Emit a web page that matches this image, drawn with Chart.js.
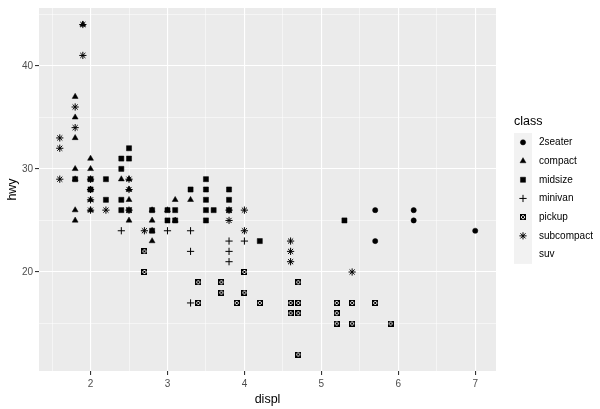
<!DOCTYPE html>
<html>
<head>
<meta charset="utf-8">
<script src="https://cdn.jsdelivr.net/npm/chart.js@4.4.1/dist/chart.umd.min.js"></script>
<style>
  html, body { margin: 0; padding: 0; background: #ffffff; }
</style>
</head>
<body>
<canvas id="mpgChart" width="600" height="409"></canvas>
<script>
// mpg: displ vs hwy, shape by class (suv has no shape, so it is not drawn)
var classNames = ['2seater', 'compact', 'midsize', 'minivan', 'pickup', 'subcompact', 'suv'];

var twoSeater = [[5.7, 26], [5.7, 23], [6.2, 26], [6.2, 25], [7.0, 24]];

var compact = [
  [1.8, 37], [1.8, 35], [1.8, 33], [1.8, 30], [1.8, 29], [1.8, 26], [1.8, 25],
  [1.9, 44], [2.0, 31], [2.0, 30], [2.0, 29], [2.0, 28], [2.0, 27], [2.0, 26],
  [2.4, 29], [2.5, 29], [2.5, 28], [2.5, 27], [2.5, 25],
  [2.8, 26], [2.8, 25], [2.8, 24], [2.8, 23], [3.0, 26], [3.1, 27], [3.1, 25], [3.3, 27]
];

var midsize = [
  [1.8, 29], [2.0, 29], [2.0, 28], [2.2, 29], [2.2, 27],
  [2.4, 31], [2.4, 30], [2.4, 27], [2.4, 26], [2.5, 32], [2.5, 31], [2.5, 26],
  [2.8, 26], [2.8, 24], [3.0, 26], [3.0, 25], [3.1, 26], [3.1, 25], [3.3, 28],
  [3.5, 29], [3.5, 28], [3.5, 27], [3.5, 26], [3.5, 25], [3.6, 26],
  [3.8, 28], [3.8, 27], [3.8, 26], [4.2, 23], [5.3, 25]
];

var minivan = [
  [2.4, 24], [3.0, 24], [3.3, 24], [3.3, 22], [3.3, 17],
  [3.8, 23], [3.8, 22], [3.8, 21], [4.0, 23]
];

var pickup = [
  [2.7, 22], [2.7, 20], [3.4, 19], [3.4, 17], [3.7, 19], [3.7, 18], [3.9, 17],
  [4.0, 20], [4.0, 18], [4.2, 17], [4.6, 17], [4.6, 16], [4.7, 19], [4.7, 17],
  [4.7, 16], [4.7, 12], [5.2, 17], [5.2, 16], [5.2, 15], [5.4, 17], [5.4, 15],
  [5.7, 17], [5.9, 15]
];

var subcompact = [
  [1.9, 44], [1.9, 41], [1.8, 36], [1.8, 34], [1.6, 33], [1.6, 32], [1.6, 29],
  [2.0, 29], [2.0, 28], [2.0, 27], [2.0, 26], [2.2, 26], [2.5, 29], [2.5, 28],
  [2.5, 26], [2.7, 24], [3.8, 26], [3.8, 25], [4.0, 26], [4.0, 24],
  [4.6, 23], [4.6, 22], [4.6, 21], [5.4, 20]
];

var xTicks = [1.5, 2, 2.5, 3, 3.5, 4, 4.5, 5, 5.5, 6, 6.5, 7];
var yTicks = [15, 20, 25, 30, 35, 40, 45];
var xLabels = [2, 3, 4, 5, 6, 7];
var yLabels = [20, 30, 40];

var FONT = '"Liberation Sans", Arial, sans-serif';

// square with an x inside (ggplot shape 7)
function makeBoxCross(size) {
  var c = document.createElement('canvas');
  c.width = size;
  c.height = size;
  var g = c.getContext('2d');
  g.strokeStyle = '#000000';
  g.lineWidth = 1;
  g.strokeRect(0.5, 0.5, size - 1, size - 1);
  g.beginPath();
  g.moveTo(0.5, 0.5); g.lineTo(size - 0.5, size - 0.5);
  g.moveTo(size - 0.5, 0.5); g.lineTo(0.5, size - 0.5);
  g.stroke();
  return c;
}
var boxCross = makeBoxCross(6);

var shapes = [
  { style: 'circle', radius: 2.6, border: 0.5 },
  { style: 'triangle', radius: 3.4, border: 0.5 },
  { style: 'rect', radius: 3.6, border: 0.5 },
  { style: 'cross', radius: 3.6, border: 1 },
  { style: boxCross, radius: 3, border: 0 },
  { style: 'star', radius: 3.6, border: 1 },
  null
];

function toPoints(arr) {
  return arr.map(function(p) { return { x: p[0], y: p[1] }; });
}

var series = [twoSeater, compact, midsize, minivan, pickup, subcompact];
var datasets = series.map(function(arr, i) {
  return {
    label: classNames[i],
    data: toPoints(arr),
    pointStyle: shapes[i].style,
    pointRadius: shapes[i].radius,
    pointBorderWidth: shapes[i].border,
    pointBackgroundColor: '#000000',
    pointBorderColor: '#000000',
    showLine: false
  };
});

var panelBg = {
  id: 'panelBg',
  beforeDraw: function(chart) {
    var a = chart.chartArea, ctx = chart.ctx;
    ctx.save();
    ctx.fillStyle = '#EBEBEB';
    ctx.fillRect(a.left, a.top, a.right - a.left, a.bottom - a.top);
    ctx.restore();
  }
};

var ggLegend = {
  id: 'ggLegend',
  afterDraw: function(chart) {
    var ctx = chart.ctx;
    var keyX = 514, keyW = 18, top = 133, step = 18.7;
    ctx.save();
    ctx.fillStyle = '#000000';
    ctx.font = '12.5px ' + FONT;
    ctx.textBaseline = 'middle';
    ctx.textAlign = 'left';
    ctx.fillText('class', keyX, 122);
    ctx.fillStyle = '#F2F2F2';
    ctx.fillRect(keyX, top, keyW, step * classNames.length);
    ctx.font = '10px ' + FONT;
    classNames.forEach(function(name, i) {
      var cy = top + step / 2 + i * step;
      var cx = keyX + keyW / 2;
      var s = shapes[i];
      if (s) {
        if (typeof s.style === 'string') {
          ctx.fillStyle = '#000000';
          ctx.strokeStyle = '#000000';
          ctx.lineWidth = s.border;
          Chart.helpers.drawPoint(ctx, { pointStyle: s.style, radius: s.radius, borderWidth: s.border, rotation: 0 }, cx, cy);
        } else {
          ctx.drawImage(s.style, cx - s.style.width / 2, cy - s.style.height / 2);
        }
      }
      ctx.fillStyle = '#000000';
      ctx.fillText(name, 539, cy);
    });
    ctx.restore();
  }
};

function gridWidth(major) {
  return function(c) { return major(c.tick && c.tick.value) ? 1.1 : 0.5; };
}
function tickCol(major) {
  return function(c) { return major(c.tick && c.tick.value) ? '#333333' : 'rgba(0,0,0,0)'; };
}
var isMajorX = function(v) { return xLabels.indexOf(v) >= 0; };
var isMajorY = function(v) { return yLabels.indexOf(v) >= 0; };

var ctx = document.getElementById('mpgChart').getContext('2d');
var mpgChart = new Chart(ctx, {
  type: 'scatter',
  data: { datasets: datasets },
  options: {
    responsive: false,
    devicePixelRatio: 1,
    animation: false,
    layout: { padding: { top: 5, right: 104, left: 0, bottom: 0 } },
    plugins: { legend: { display: false }, tooltip: { enabled: false } },
    scales: {
      x: {
        type: 'linear',
        min: 1.33,
        max: 7.27,
        afterBuildTicks: function(scale) {
          scale.ticks = xTicks.map(function(v) { return { value: v }; });
        },
        afterFit: function(scale) { scale.height = 38; },
        border: { display: false },
        grid: {
          color: '#FFFFFF',
          lineWidth: gridWidth(isMajorX),
          tickColor: tickCol(isMajorX),
          tickWidth: 1.1,
          tickLength: 4
        },
        ticks: {
          autoSkip: false,
          maxRotation: 0,
          padding: 3,
          color: '#4D4D4D',
          font: { family: FONT, size: 10 },
          callback: function(v) { return isMajorX(v) ? String(v) : ''; }
        },
        title: {
          display: true,
          text: 'displ',
          color: '#000000',
          font: { family: FONT, size: 12.5 },
          padding: { top: 0, bottom: 2 }
        }
      },
      y: {
        type: 'linear',
        min: 10.4,
        max: 45.6,
        afterBuildTicks: function(scale) {
          scale.ticks = yTicks.map(function(v) { return { value: v }; });
        },
        afterFit: function(scale) { scale.width = 39; },
        border: { display: false },
        grid: {
          color: '#FFFFFF',
          lineWidth: gridWidth(isMajorY),
          tickColor: tickCol(isMajorY),
          tickWidth: 1.1,
          tickLength: 4
        },
        ticks: {
          autoSkip: false,
          padding: 2,
          color: '#4D4D4D',
          font: { family: FONT, size: 10 },
          callback: function(v) { return isMajorY(v) ? String(v) : ''; }
        },
        title: {
          display: true,
          text: 'hwy',
          color: '#000000',
          font: { family: FONT, size: 12.5 },
          padding: { top: 5, bottom: 0 }
        }
      }
    }
  },
  plugins: [panelBg, ggLegend]
});
</script>
</body>
</html>
